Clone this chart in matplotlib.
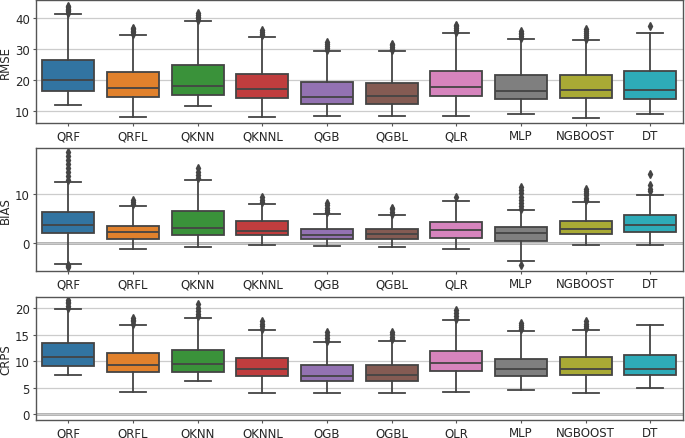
import matplotlib
matplotlib.use("Agg")
import matplotlib.pyplot as plt

models = ["QRF", "QRFL", "QKNN", "QKNNL", "QGB", "QGBL", "QLR", "MLP", "NGBOOST", "DT"]
colors = ["#3274a1", "#e1812c", "#3a923a", "#c03d3e", "#9372b2",
          "#845b53", "#d684bd", "#7f7f7f", "#a9aa35", "#2eabb8"]

# per model: whislo, q1, median, q3, whishi
rmse_stats = [
    [12.1, 16.5, 19.9, 26.5, 41.5],
    [8.0, 14.7, 17.5, 22.7, 34.7],
    [11.7, 15.2, 18.1, 24.8, 39.2],
    [8.0, 14.1, 17.1, 22.0, 34.1],
    [8.3, 12.4, 14.7, 19.4, 29.5],
    [8.3, 12.4, 14.9, 19.0, 29.4],
    [8.3, 14.8, 17.7, 23.1, 35.4],
    [8.9, 14.0, 16.5, 21.8, 33.4],
    [7.8, 14.2, 16.9, 21.8, 33.1],
    [8.9, 14.0, 16.9, 23.1, 35.4],
]
rmse_fliers = [
    [41.8, 42.3, 42.8, 43.2, 43.6, 44.0],
    [35.0, 35.5, 36.0, 36.5, 36.9],
    [39.5, 40.0, 40.6, 41.2, 41.7],
    [34.5, 35.0, 35.6, 36.2],
    [29.8, 30.4, 31.0, 31.6, 32.3],
    [29.7, 30.2, 30.8, 31.3, 31.7],
    [35.7, 36.3, 36.9, 37.4, 37.8],
    [33.7, 34.3, 34.9, 35.4, 35.8],
    [33.4, 34.0, 34.7, 35.3, 35.9, 36.5],
    [37.6],
]

bias_stats = [
    [-4.3, 2.1, 3.8, 6.3, 12.6],
    [-1.2, 0.8, 2.2, 3.6, 7.7],
    [-0.7, 1.7, 3.2, 6.5, 13.0],
    [-0.4, 1.6, 2.6, 4.6, 8.0],
    [-0.5, 0.9, 1.6, 3.0, 6.0],
    [-0.7, 0.95, 1.9, 2.9, 5.7],
    [-1.2, 1.1, 2.8, 4.3, 8.7],
    [-3.6, 0.4, 2.0, 3.3, 6.7],
    [-0.3, 1.8, 3.0, 4.6, 8.5],
    [-0.3, 2.3, 3.8, 5.7, 9.9],
]
bias_fliers = [
    [-4.5, -4.7, -4.9, 13.0, 13.8, 14.6, 15.4, 16.2, 17.0, 17.8, 18.6],
    [8.0, 8.4, 8.9],
    [13.4, 14.0, 14.6, 15.3],
    [8.4, 8.9, 9.5],
    [6.3, 6.8, 7.3, 7.8, 8.2],
    [6.0, 6.4, 6.9, 7.3],
    [9.4],
    [-4.5, 7.0, 7.6, 8.2, 8.8, 9.5, 10.2, 10.8, 11.5],
    [8.8, 9.3, 9.8, 10.3, 10.7, 11.1],
    [10.6, 11.0, 11.8, 14.2],
]

crps_stats = [
    [7.45, 9.0, 10.8, 13.4, 19.8],
    [4.1, 7.9, 9.25, 11.5, 16.8],
    [6.2, 7.9, 9.4, 12.1, 18.2],
    [4.0, 7.25, 8.5, 10.6, 15.8],
    [4.0, 6.25, 7.25, 9.25, 13.6],
    [4.0, 6.25, 7.45, 9.2, 13.8],
    [4.1, 8.2, 9.6, 12.0, 17.7],
    [4.6, 7.15, 8.45, 10.5, 15.7],
    [4.0, 7.3, 8.6, 10.8, 15.9],
    [4.95, 7.3, 8.6, 11.2, 16.8],
]
crps_fliers = [
    [20.1, 20.5, 20.9, 21.2, 21.5],
    [17.1, 17.5, 17.8, 18.1],
    [18.5, 19.0, 19.5, 20.1, 20.7],
    [16.1, 16.6, 17.1, 17.6],
    [13.9, 14.4, 15.0, 15.5],
    [14.1, 14.6, 15.1, 15.5],
    [18.0, 18.5, 19.1, 19.6],
    [16.0, 16.5, 16.9, 17.3],
    [16.2, 16.7, 17.1, 17.5],
    [],
]

panels = [
    ("RMSE", rmse_stats, rmse_fliers, (6.2, 46.0), [10, 20, 30, 40], False),
    ("BIAS", bias_stats, bias_fliers, (-5.7, 19.4), [0, 10], True),
    ("CRPS", crps_stats, crps_fliers, (-1.1, 22.1), [0, 5, 10, 15, 20], True),
]

fig = plt.figure(figsize=(6.85, 4.39), dpi=100)
tops = [0.998, 0.660, 0.321]
height = 0.280
edge = "#444444"

for (label, stats, fliers, ylim, yticks, zero), top in zip(panels, tops):
    ax = fig.add_axes([0.0526, top - height, 0.944, height])
    bxp = []
    for name, s, f in zip(models, stats, fliers):
        bxp.append(dict(label=name, whislo=s[0], q1=s[1], med=s[2], q3=s[3], whishi=s[4], fliers=f))
    art = ax.bxp(bxp, positions=range(len(models)), widths=0.8, patch_artist=True,
                 boxprops=dict(edgecolor=edge, linewidth=1.3),
                 medianprops=dict(color=edge, linewidth=1.3),
                 whiskerprops=dict(color=edge, linewidth=1.3),
                 capprops=dict(color=edge, linewidth=1.3),
                 flierprops=dict(marker="d", markerfacecolor=edge, markeredgecolor=edge,
                                 markersize=4, linestyle="none"))
    for patch, c in zip(art["boxes"], colors):
        patch.set_facecolor(c)
    if zero:
        ax.axhline(0, color="#aaaaaa", linewidth=2, zorder=0.5)
    ax.set_xlim(-0.5, len(models) - 0.5)
    ax.set_ylim(*ylim)
    ax.set_yticks(yticks)
    ax.yaxis.grid(True, color="#cccccc", linewidth=0.9)
    ax.set_axisbelow(True)
    ax.set_ylabel(label, fontsize=8.5, color="#262626", labelpad=2)
    ax.tick_params(labelsize=8.5, labelcolor="#262626", length=2.5, color="#555555", pad=2)
    for sp in ax.spines.values():
        sp.set_color("#555555")
        sp.set_linewidth(1.0)

fig.savefig("out.png", dpi=100)
